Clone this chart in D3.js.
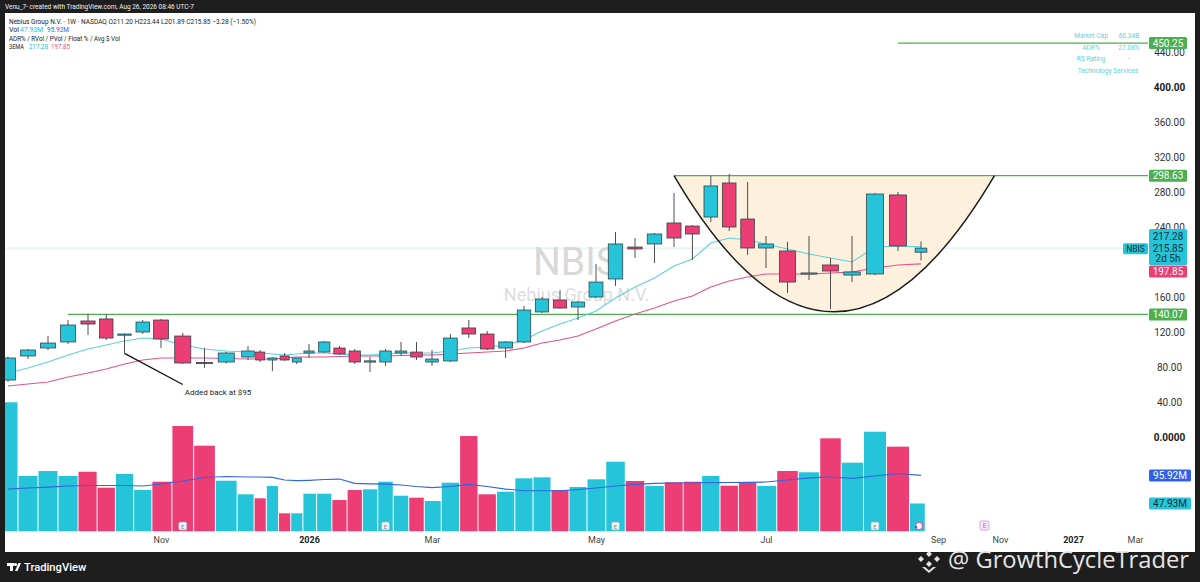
<!DOCTYPE html>
<html><head><meta charset="utf-8">
<script src="https://cdn.jsdelivr.net/npm/d3@7"></script>
<style>
html,body{margin:0;padding:0;background:#1e1e1e;overflow:hidden}
svg{display:block;font-family:Roboto,"Noto Sans",sans-serif}
</style></head><body>
<svg id="c" width="1200" height="582"></svg>
<script>
// ================= DATA =================
const firstWeek = "2025-09-08";
const lastWeek  = "2026-08-24";
const open  = [65.1,92.6,101.7,108.6,132.6,134.9,117.3,120,133.7,115.4,85.2,85.7,91.4,97.1,88,92.6,85.7,96,97.1,101.7,98.3,86.5,85.7,96,97.1,85.7,86.9,124.6,117.7,101.7,108.6,142.9,156.6,148.6,160,180.6,217.1,220.6,244.6,241.1,251.4,290.3,249.1,216,212.6,186.9,196.6,185.1,186.3,276.6,211.2];
const high  = [92,100.6,115.4,133.7,140.6,140.6,118.5,133.7,134.9,118.9,101.7,97.5,104,99.4,91.4,96,90.3,106.3,109.7,104,100.6,91.4,100.6,108.6,108.6,99.4,117.7,133.7,121.1,109.7,149.7,160,168,155.4,197.7,234.3,227.4,233.1,278.9,242.3,298.3,300.6,291.4,229.7,222.9,229.7,204.6,229.7,278.9,280,223.44];
const low   = [63,89.1,99.4,106.3,116.6,110.9,95.5,117.7,101.7,83.4,78.9,84,88,85.7,75.4,86.9,83.4,90.3,96,93.7,83.4,74.3,81.1,92.6,88,81.1,85.7,113.1,99.4,90.3,107.4,141.7,146.3,133.7,158.9,172.6,204.6,198.9,217.1,202.3,245.7,235.4,208,193.1,164.6,179.4,146.3,177.1,185.1,212.6,201.89];
const close = [90.3,99.4,107.4,128,129.1,113.1,117.7,131.4,112,84.6,84.3,96,98.3,88,90.3,88,90.3,98.3,108.6,94.9,85.7,87,98.3,98.3,91.4,89.1,113.1,117.7,100.6,108.6,145.1,157.7,147.4,154.3,177.1,220.6,214.9,232,227.4,232,286.9,240,216,220.6,177.1,187.5,189.7,188.6,277.7,218.3,215.85];
const volumeM = [220.9,94.9,103.4,94.9,102.2,74.9,98.3,70.9,85.1,180.3,146.7,86.8,63.6,56.7,77.8,31.1,31.1,64.6,64.6,53.8,70.9,72.1,85.1,61.2,57.8,52.1,83.4,163.2,63.6,68.0,90.9,92.6,70.9,76.1,89.2,119.3,86.3,77.8,84.1,85.1,94.9,78.3,84.1,77.8,103.4,101.2,159.3,117.6,170.6,145.0,47.93];
const emaFast = [73.1,78.9,85.7,93.7,100.6,105.1,109.7,113.1,112,105.1,100.6,98.3,97.1,96,94.9,93.7,94.9,96,96,94.9,93.7,93.7,94.9,96,96,96,98.3,101.7,102.9,105.1,110.9,121.1,129.1,136,144,158.9,171.4,181.7,195.4,203.4,221.7,227.4,225.1,220.6,214.9,209.1,204.6,200,217.1,218.3,217.28];
const emaSlow = [58.3,60.6,62.9,68.6,73.1,77.7,83.4,88,90.3,90.3,90.3,89.7,89.1,89.1,89.1,90.3,91.4,91.4,91.4,92,92.6,92.6,92.6,93.1,93.7,93.7,94.9,96,97.1,98.3,101.7,107.4,110.9,115.4,123.4,132.6,140.6,147.4,155.4,161.1,171.4,178.3,182.9,186.3,186.3,186.3,187.4,188.6,193.1,196.6,197.85];
const volMA = [72.6,74.4,76,77.8,78.6,78.6,78.6,77.8,81.2,86.3,92.3,94,93.2,93.2,92.6,88,86.8,87.5,88.9,89.7,82.4,81.5,80.9,79.5,76.9,74.9,76.9,80.7,76.9,72.6,69.7,69.7,69.7,71.8,74.4,77.8,80.7,82.1,82.9,82.9,83.4,83.8,84.1,84.6,88,91.5,93.2,90.9,94.9,99.1,95.92];
const tickDates  = ["2025-11-03","2026-01-05","2026-03-02","2026-05-04","2026-07-06","2026-09-07","2026-11-02","2027-01-04","2027-03-01"];
const tickLabels = ["Nov","2026","Mar","May","Jul","Sep","Nov","2027","Mar"];
const priceTicks = [0,40,80,120,160,240,280,320,360,400,440];
const levelPrices = [450.25, 298.63, 140.07];
const levelStarts = ["2026-08-17","2026-06-01","2025-09-29"];
const earningsDates = ["2025-11-10","2026-02-09","2026-05-11","2026-08-10"];
const nextEarnings = "2026-10-19";
const cupDates  = ["2026-06-01","2026-07-28","2026-10-28"];   // left rim, curve control, right rim
const cupPrices = [298.63, -12.6, 298.63];
const noteFrom = {date:"2025-10-20", price:95.5};
const noteTo   = {date:"2025-11-10", price:60};
const noteText = "Added back at $95";
const infoLabels = ["Market Cap","ADR%","RS Rating"];
const infoValues = ["60.34B","27.08%","-"];
const sector = "Technology Services";
const lastPrice = 215.85, lastFast = 217.28, lastSlow = 197.85, lastVol = 47.93, lastVolMA = 95.92;

// ================= LAYOUT =================
const W = 1200, H = 582;
const CYAN = "#26c4d9", RED = "#ec3d75", GREEN = "#4caf50";
const parse = d3.utcParse("%Y-%m-%d");
const weeks = d3.utcMonday.range(parse(firstWeek), d3.utcDay.offset(parse(lastWeek), 1));
// time axis calibration (the reference's horizontal scale is uneven)
const knotDates = ["2025-09-08","2025-10-06","2025-11-03","2025-12-01","2026-01-05","2026-02-02","2026-03-02","2026-04-06","2026-05-04","2026-06-01","2026-07-06","2026-08-03","2026-08-24","2026-09-07","2026-11-02","2027-01-04","2027-03-01"].map(parse);
const knotPx = [8,88,161,248,309,370,432,524,596,674,766,852,921,938,1000,1073,1135];
const x = d3.scaleUtc().domain(knotDates).range(knotPx);
const y = d3.scaleLinear().domain([0, 440]).range([437, 52]);
const yv = d3.scaleLinear().domain([0, 200]).range([531.5, 414.5]);
const halfWeek = 3.5 * 864e5;
const xl = d => x(new Date(+d - halfWeek)), xr = d => x(new Date(+d + halfWeek));

const svg = d3.select("#c");
svg.append("rect").attr("width", W).attr("height", H).attr("fill", "#1e1e1e");
svg.append("rect").attr("x", 5).attr("y", 13).attr("width", 1190).attr("height", 539).attr("fill", "#fff");

svg.append("defs").append("clipPath").attr("id", "plot")
  .append("rect").attr("x", 5).attr("y", 13).attr("width", 1143).attr("height", 518.5);

const g = svg.append("g").attr("clip-path", "url(#plot)");

// current price line
g.append("line").attr("x1", 5).attr("x2", 1148).attr("y1", y(lastPrice)).attr("y2", y(lastPrice))
  .attr("stroke", "#c9ecf1").attr("stroke-width", 0.8);

// watermark
g.append("text").attr("x", 576).attr("y", 275).attr("text-anchor", "middle")
  .attr("font-size", 39).attr("fill", "#d8d8d8").text("NBIS");
g.append("text").attr("x", 576.5).attr("y", 301).attr("text-anchor", "middle")
  .attr("font-size", 18).attr("fill", "#dcdcdc").text("Nebius Group N.V.");

// cup
const cp = cupDates.map((d, i) => [x(parse(d)), y(cupPrices[i])]);
const cupPath = d3.path();
cupPath.moveTo(cp[0][0], cp[0][1]);
cupPath.quadraticCurveTo(cp[1][0], cp[1][1], cp[2][0], cp[2][1]);
const cupD = cupPath.toString();
g.append("path").attr("d", cupD + "Z").attr("fill", "#fdf0dd");

// level lines
levelPrices.forEach((p, i) => {
  g.append("line").attr("x1", x(parse(levelStarts[i]))).attr("x2", 1148)
    .attr("y1", y(p)).attr("y2", y(p)).attr("stroke", GREEN).attr("stroke-width", 1.2);
});

// volume bars
g.selectAll("rect.vol").data(weeks).join("rect").attr("class", "vol")
  .attr("x", d => xl(d) + 0.5)
  .attr("width", d => Math.max(1, xr(d) - xl(d) - 1))
  .attr("y", (d, i) => yv(volumeM[i]))
  .attr("height", (d, i) => yv(0) - yv(volumeM[i]))
  .attr("fill", (d, i) => close[i] >= open[i] ? CYAN : RED);

g.append("path").datum(weeks).attr("fill", "none").attr("stroke", "#2f67e0").attr("stroke-width", 1.2)
  .attr("d", d3.line().x(d => x(d)).y((d, i) => yv(volMA[i])));

// EMAs
g.append("path").datum(weeks).attr("fill", "none").attr("stroke", "#5fd0de").attr("stroke-width", 1.1)
  .attr("d", d3.line().x(d => x(d)).y((d, i) => y(emaFast[i])));
g.append("path").datum(weeks).attr("fill", "none").attr("stroke", "#e0548a").attr("stroke-width", 1.1)
  .attr("d", d3.line().x(d => x(d)).y((d, i) => y(emaSlow[i])));

// cup outline
g.append("path").attr("d", cupD).attr("fill", "none").attr("stroke", "#1c1c1c").attr("stroke-width", 1.5);

// candles
const cg = g.append("g");
weeks.forEach((d, i) => {
  const cx = x(d), w = (xr(d) - xl(d)) * 0.74;
  const up = close[i] >= open[i];
  cg.append("line").attr("x1", cx).attr("x2", cx).attr("y1", y(high[i])).attr("y2", y(low[i]))
    .attr("stroke", "#4a4f52").attr("stroke-width", 1);
  const top = y(Math.max(open[i], close[i])), bot = y(Math.min(open[i], close[i]));
  cg.append("rect").attr("x", cx - w / 2).attr("width", w).attr("y", top).attr("height", Math.max(1.2, bot - top))
    .attr("fill", up ? CYAN : RED).attr("stroke", "#33434a").attr("stroke-width", 0.8);
});

// annotation
g.append("line").attr("x1", x(parse(noteFrom.date))).attr("y1", y(noteFrom.price))
  .attr("x2", x(parse(noteTo.date))).attr("y2", y(noteTo.price))
  .attr("stroke", "#111").attr("stroke-width", 1.3);
g.append("text").attr("x", x(parse(noteTo.date)) + 2).attr("y", 395)
  .attr("font-size", 8).attr("fill", "#222").text(noteText);

// earnings markers
earningsDates.forEach(d => {
  const cx = x(parse(d));
  g.append("rect").attr("x", cx - 4).attr("y", 522).attr("width", 8).attr("height", 8).attr("rx", 1.5)
    .attr("fill", "#eef7f8").attr("stroke", "#9fb0b3").attr("stroke-width", 0.7);
  g.append("text").attr("x", cx).attr("y", 528.5).attr("text-anchor", "middle").attr("font-size", 6)
    .attr("fill", "#7a8a8d").text("E");
});
{
  const cx = x(parse(nextEarnings));
  g.append("rect").attr("x", cx - 4.5).attr("y", 521).attr("width", 9).attr("height", 9).attr("rx", 1.5)
    .attr("fill", "#f7e9f7").attr("stroke", "#d58ad5").attr("stroke-width", 0.8);
  g.append("text").attr("x", cx).attr("y", 528).attr("text-anchor", "middle").attr("font-size", 6.5)
    .attr("fill", "#c065c0").text("E");
  const lx = x(parse(lastWeek)) - 2;
  g.append("circle").attr("cx", lx).attr("cy", 526).attr("r", 3.5).attr("fill", "#fff")
    .attr("stroke", "#e0559a").attr("stroke-width", 1.2);
  g.append("circle").attr("cx", lx - 3).attr("cy", 527).attr("r", 1.3).attr("fill", "#3a5fd8");
}

// ================= AXES =================
const ax = svg.append("g").attr("transform", "translate(0,531)")
  .call(d3.axisBottom(x).tickValues(tickDates.map(parse)).tickFormat((d, i) => tickLabels[i]).tickSize(0));
ax.select(".domain").remove();
ax.selectAll("text").attr("y", 12).attr("dy", 0).attr("font-size", 9).attr("font-family", "Roboto, sans-serif")
  .attr("fill", (d, i) => /^\d{4}$/.test(tickLabels[i]) ? "#222" : "#444")
  .attr("font-weight", (d, i) => /^\d{4}$/.test(tickLabels[i]) ? 700 : 400);

const ay = svg.append("g").attr("transform", "translate(1169.5,0)")
  .call(d3.axisRight(y).tickValues(priceTicks).tickSize(0)
    .tickFormat(d => d === 0 ? "0.0000" : d3.format(".2f")(d)));
ay.select(".domain").remove();
ay.selectAll("text").attr("x", 0).attr("text-anchor", "middle").attr("font-size", 10)
  .attr("font-family", "Roboto, sans-serif")
  .attr("fill", d => (d === 0 || d === 400) ? "#1a1a1a" : "#333")
  .attr("font-weight", d => (d === 0 || d === 400) ? 700 : 400);

// ================= TAGS =================
function tag(xx, yc, w, h, fill, color, label, fs) {
  svg.append("rect").attr("x", xx).attr("y", yc - h / 2).attr("width", w).attr("height", h)
    .attr("rx", 1.5).attr("fill", fill);
  svg.append("text").attr("x", xx + w / 2).attr("y", yc).attr("dy", "0.36em").attr("text-anchor", "middle")
    .attr("font-size", fs || 10).attr("fill", color).text(label);
}
levelPrices.forEach(p => tag(1149, y(p), 38, 12, GREEN, "#fff", d3.format(".2f")(p)));
svg.append("rect").attr("x", 1149).attr("y", 229).attr("width", 38).attr("height", 36).attr("rx", 1.5).attr("fill", CYAN);
[[236, d3.format(".2f")(lastFast)], [y(lastPrice), d3.format(".2f")(lastPrice)], [258.5, "2d 5h"]].forEach(([yy, t]) => {
  svg.append("text").attr("x", 1168).attr("y", yy).attr("dy", "0.36em").attr("text-anchor", "middle")
    .attr("font-size", 10).attr("fill", "#0f2d36").text(t);
});
tag(1123, y(lastPrice) + 0.5, 25, 11, CYAN, "#0f2d36", "NBIS", 8.5);
tag(1149, 271.5, 38, 12, RED, "#fff", d3.format(".2f")(lastSlow));
tag(1149, yv(lastVolMA), 42, 12, "#2f62e8", "#fff", d3.format(".2f")(lastVolMA) + "M");
tag(1149, yv(lastVol), 42, 12, CYAN, "#0f2d36", d3.format(".2f")(lastVol) + "M");

// info table
const INFO = "#66cedc";
infoLabels.forEach((l, i) => {
  svg.append("text").attr("x", 1091).attr("y", 38 + i * 11.6).attr("text-anchor", "middle")
    .attr("font-size", 6.6).attr("fill", INFO).text(l);
  svg.append("text").attr("x", 1129).attr("y", 38 + i * 11.6).attr("text-anchor", "middle")
    .attr("font-size", 6.6).attr("fill", INFO).text(infoValues[i]);
});
svg.append("text").attr("x", 1108).attr("y", 72.8).attr("text-anchor", "middle")
  .attr("font-size", 6.6).attr("fill", INFO).text(sector);

// ================= HEADER / LEGEND =================
svg.append("text").attr("x", 5).attr("y", 9.3).attr("font-size", 6.8).attr("fill", "#f2f2f2")
  .attr("textLength", 189).attr("lengthAdjust", "spacingAndGlyphs")
  .text("Venu_7- created with TradingView.com, Aug 26, 2026 08:46 UTC-7");
svg.append("text").attr("x", 9).attr("y", 23.5).attr("font-size", 7).attr("fill", "#222")
  .attr("textLength", 247).attr("lengthAdjust", "spacingAndGlyphs")
  .text("Nebius Group N.V. · 1W · NASDAQ   O211.20   H223.44   L201.89   C215.85   −3.28 (−1.50%)");
const leg = (xx, yy, t, c, len) => {
  const e = svg.append("text").attr("x", xx).attr("y", yy).attr("font-size", 7).attr("fill", c).text(t);
  if (len) e.attr("textLength", len).attr("lengthAdjust", "spacingAndGlyphs");
};
leg(9, 32, "Vol", "#222");
leg(20, 32, d3.format(".2f")(lastVol) + "M", "#29b8cc", 23);
leg(47, 32, d3.format(".2f")(lastVolMA) + "M", "#3461e0", 22);
leg(9, 40.5, "ADR% / RVol / PVol / Float % / Avg $ Vol", "#222", 111);
leg(9, 49, "3EMA", "#222", 15);
leg(29, 49, d3.format(".2f")(lastFast), "#29b8cc", 19);
leg(51, 49, d3.format(".2f")(lastSlow), "#e0548a", 19);

// ================= FOOTER =================
const lg = svg.append("g").attr("fill", "#fff");
lg.append("rect").attr("x", 7).attr("y", 563).attr("width", 7).attr("height", 3);
lg.append("rect").attr("x", 10).attr("y", 563).attr("width", 3).attr("height", 8);
lg.append("circle").attr("cx", 15.5).attr("cy", 564.5).attr("r", 1.6);
lg.append("path").attr("d", "M15,571 L18.5,563 L21,563 L17.5,571 Z");
svg.append("text").attr("x", 24).attr("y", 571).attr("font-size", 11.2).attr("font-weight", 500)
  .attr("fill", "#fff").text("TradingView");

const wm = svg.append("g").attr("fill", "#e4e4e4");
[[921, 559], [929, 554], [937, 559], [929, 564]].forEach(([a, b]) => {
  wm.append("path").attr("d", `M${a},${b - 3} L${a + 3},${b} L${a},${b + 3} L${a - 3},${b} Z`);
});
wm.append("path").attr("d", "M922,567 L929,573 L936,567 L933,567 L929,570.5 L925,567 Z");
svg.append("text").attr("x", 948).attr("y", 568).attr("font-size", 24).attr("font-family", "'Open Sans', sans-serif")
  .attr("fill", "#e6e6e6").attr("textLength", 241).attr("lengthAdjust", "spacingAndGlyphs")
  .text("@ GrowthCycleTrader");
</script>
</body></html>
